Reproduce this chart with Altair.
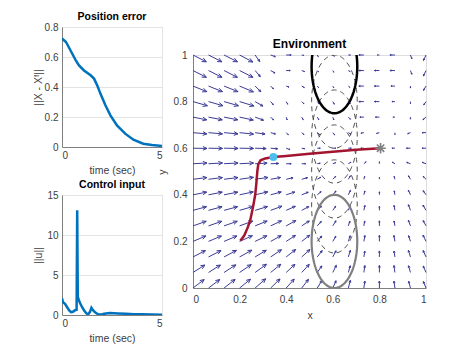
import altair as alt
import pandas as pd
import numpy as np

FONT = "Liberation Sans"

# ---------------- Position error ----------------
t_err = [0, 0.2, 0.44, 0.69, 0.85, 1.1, 1.43, 1.6, 1.76, 1.92, 2.17, 2.42, 2.75, 3.16, 3.57, 4.06, 4.5, 5.0]
err = [0.723, 0.70, 0.64, 0.578, 0.544, 0.51, 0.478, 0.456, 0.411, 0.356, 0.278, 0.211, 0.144, 0.089, 0.049, 0.022, 0.013, 0.007]

# ---------------- Control input ----------------
t_u = [0, 0.05, 0.15, 0.25, 0.35, 0.45, 0.55, 0.65, 0.73, 0.76, 0.79, 0.82, 0.9, 1.0, 1.1, 1.2, 1.3, 1.4,
       1.47, 1.55, 1.65, 1.8, 1.95, 2.1, 2.4, 2.8, 3.2, 3.6, 4.0, 4.5, 5.0]
u = [2.1, 1.6, 1.4, 1.0, 0.6, 0.35, 0.4, 0.6, 0.65, 13.1, 2.3, 2.0, 1.5, 1.0, 0.6, 0.25, 0.05, 0.4,
     0.9, 0.6, 0.35, 0.1, 0.05, 0.15, 0.25, 0.2, 0.15, 0.1, 0.08, 0.05, 0.03]

# ---------------- Environment ----------------
grid_vals = [i / 15 for i in range(16)]
# arrow angles (deg) and lengths (px), rows from y=1 (top) to y=0, columns x=0..1
ANG = [
    [-27, -27, -27, -28, -55, -20, 0, -10, -60, -40, 0, 180, 180, 180, -70, -115],
    [-27, -27, -27, -27, -50, -30, 0, -20, -45, -60, -30, 180, 180, 180, -70, -115],
    [-22, -22, -22, -23, -45, -45, -20, -30, -50, -60, -40, 180, 180, 180, -90, -120],
    [-16, -16, -16, -17, -30, -50, -60, -45, -50, -60, -50, 180, 180, 180, -90, -125],
    [-11, -11, -11, -12, -20, -45, -70, -60, -60, -70, -45, 180, 180, 180, -90, -140],
    [-5, -5, -5, -6, -8, -15, -45, -40, -40, -50, -30, 190, 195, -90, -160, 180],
    [-1, -1, -1, -1, -2, -5, -20, -10, 0, 0, 0, 180, 0, 180, 180, 180],
    [3, 3, 3, 3, 3, 2, 0, 0, 10, 20, 30, 40, 90, 150, 160, 160],
    [7, 7, 7, 8, 8, 10, 12, 15, 30, 45, 60, 75, 90, 105, 120, 135],
    [11, 11, 11, 12, 13, 15, 18, 22, 40, 50, 65, 75, 90, 100, 115, 125],
    [15, 15, 15, 16, 17, 20, 24, 28, 45, 55, 70, 78, 90, 100, 110, 120],
    [19, 19, 19, 20, 22, 25, 29, 33, 48, 58, 72, 80, 90, 100, 110, 118],
    [23, 23, 23, 24, 26, 29, 33, 38, 50, 60, 72, 80, 90, 100, 108, 115],
    [27, 27, 28, 29, 31, 34, 38, 42, 52, 62, 73, 81, 90, 99, 107, 114],
    [32, 32, 33, 34, 36, 39, 43, 47, 55, 64, 74, 82, 90, 98, 106, 113],
    [37, 37, 38, 39, 41, 44, 48, 52, 58, 66, 75, 82, 90, 98, 105, 112],
]
LEN = [
    [15, 15, 15, 15, 8, 5, 5, 2, 2, 2, 2, 5, 2, 5, 4, 6],
    [15, 15, 15, 15, 8, 5, 4, 3, 2, 2, 2, 5, 5, 5, 4, 6],
    [15, 15, 15, 15, 8, 4, 3, 3, 2, 2, 2, 5, 5, 4, 2, 5],
    [15, 15, 15, 15, 9, 4, 3, 3, 3, 3, 3, 5, 5, 3, 2, 4],
    [14, 14, 14, 14, 9, 4, 3, 3, 3, 3, 3, 4, 4, 2, 2, 4],
    [14, 14, 14, 14, 10, 5, 3, 3, 3, 3, 3, 3, 3, 2, 3, 4],
    [14, 14, 14, 14, 11, 7, 4, 3, 3, 3, 3, 3, 1, 3, 4, 4],
    [14, 14, 14, 14, 12, 8, 5, 4, 3, 3, 3, 3, 2, 3, 4, 4],
    [14, 14, 14, 14, 13, 10, 7, 6, 4, 4, 4, 3, 2, 3, 4, 4],
    [14, 14, 14, 14, 13, 11, 9, 7, 5, 5, 5, 4, 3, 4, 5, 5],
    [14, 14, 14, 14, 13, 12, 10, 8, 6, 5, 5, 5, 4, 5, 6, 6],
    [14, 14, 14, 14, 13, 12, 11, 9, 6, 6, 5, 5, 5, 5, 6, 6],
    [14, 14, 14, 14, 13, 12, 11, 10, 7, 6, 6, 6, 6, 6, 6, 7],
    [14, 14, 14, 14, 13, 13, 12, 11, 8, 7, 7, 6, 6, 6, 7, 7],
    [14, 14, 14, 14, 14, 13, 12, 11, 8, 8, 7, 7, 7, 7, 7, 7],
    [14, 14, 14, 14, 14, 13, 12, 11, 9, 8, 8, 7, 7, 7, 7, 7],
]
PX_PER_UNIT = 233.0

traj_x = [0.203, 0.22, 0.235, 0.246, 0.258, 0.267, 0.272, 0.276, 0.28, 0.29, 0.31, 0.345, 0.4, 0.5, 0.6, 0.7, 0.805]
traj_y = [0.203, 0.225, 0.26, 0.292, 0.35, 0.40, 0.45, 0.5, 0.53, 0.548, 0.556, 0.562, 0.567, 0.576, 0.585, 0.593, 0.6]
dot_xy = (0.345, 0.562)
goal_xy = (0.805, 0.6)

# obstacle ellipses: center x, center y, radius x, radius y
obst_black = (0.607, 0.95, 0.098, 0.2)
obst_gray = (0.607, 0.2, 0.098, 0.2)
obst_dashed_cy = [0.35, 0.5, 0.65, 0.8]

# ---------------- build tables ----------------
err_df = pd.DataFrame({"t": t_err, "v": err})
u_df = pd.DataFrame({"t": t_u, "v": u})

arrows = []
for r in range(16):
    y0 = grid_vals[15 - r]
    for c in range(16):
        x0 = grid_vals[c]
        a = np.deg2rad(ANG[r][c])
        L = LEN[r][c] / PX_PER_UNIT
        x1 = x0 + L * np.cos(a)
        y1 = y0 + L * np.sin(a)
        arrows.append({"x": x0, "y": y0, "x2": x1, "y2": y1})
        h = 0.32 * L
        for s in (1, -1):
            ha = a + np.pi + s * 0.42
            arrows.append({"x": x1, "y": y1, "x2": x1 + h * np.cos(ha), "y2": y1 + h * np.sin(ha)})
arrow_df = pd.DataFrame(arrows)


def ellipse(params, key):
    cx, cy, rx, ry = params
    th = np.linspace(0, 2 * np.pi, 121)
    return pd.DataFrame({"x": cx + rx * np.cos(th), "y": cy + ry * np.sin(th), "i": range(len(th)), "k": key})


black_df = ellipse(obst_black, "b")
gray_df = ellipse(obst_gray, "g")
dashed_df = pd.concat([ellipse((obst_gray[0], cy, obst_gray[2], obst_gray[3]), f"d{j}")
                       for j, cy in enumerate(obst_dashed_cy)])
traj_df = pd.DataFrame({"x": traj_x, "y": traj_y, "i": range(len(traj_x))})
dot_df = pd.DataFrame({"x": [dot_xy[0]], "y": [dot_xy[1]]})
goal_df = pd.DataFrame({"x": [goal_xy[0]], "y": [goal_xy[1]]})

AX = dict(labelFont=FONT, titleFont=FONT, labelFontSize=10, titleFontSize=10.5,
          labelColor="#404040", titleColor="#404040", domainColor="#7f7f7f",
          ticks=False, titleFontWeight="normal")


# ---------------- left panels ----------------
def left_panel(df, ydom, yvals, ytitle, title, ytp):
    return alt.Chart(df).mark_line(color="#0072BD", strokeWidth=2.5, clip=True).encode(
        x=alt.X("t:Q", scale=alt.Scale(domain=[0, 5], nice=False),
                axis=alt.Axis(values=[0, 5], title="time (sec)", grid=True, gridColor="#e3e3e3",
                              format="~g", labelPadding=3, titlePadding=5, **AX)),
        y=alt.Y("v:Q", scale=alt.Scale(domain=ydom, nice=False),
                axis=alt.Axis(values=yvals, title=ytitle, grid=True, gridColor="#e3e3e3",
                              format="~g", labelPadding=4, titlePadding=ytp, **AX)),
    ).properties(width=100, height=120,
                 title=alt.TitleParams(title, font=FONT, fontSize=10.5, fontWeight="bold", color="black", offset=0))


top = left_panel(err_df, [0, 0.8], [0, 0.2, 0.4, 0.6, 0.8], "||X - Xᶠ||", "Position error", 1)
bot = left_panel(u_df, [0, 15], [0, 5, 10, 15], "||u||", "Control input", 3)

# ---------------- environment ----------------
xs = alt.Scale(domain=[0, 1], nice=False)
ys = alt.Scale(domain=[0, 1], nice=False)
xax = alt.Axis(values=[0, 0.2, 0.4, 0.6, 0.8, 1], format="~g", title="x", grid=False,
               labelPadding=6, titlePadding=6, **AX)
yax = alt.Axis(values=[0, 0.2, 0.4, 0.6, 0.8, 1], format="~g", title="y", grid=False,
               labelPadding=6, titlePadding=6, **AX)

arrow_layer = alt.Chart(arrow_df).mark_rule(color="#3b3b98", strokeWidth=1).encode(
    x=alt.X("x:Q", scale=xs, axis=xax), y=alt.Y("y:Q", scale=ys, axis=yax), x2="x2:Q", y2="y2:Q")
dashed_layer = alt.Chart(dashed_df).mark_line(color="#3a3a3a", strokeWidth=0.9, strokeDash=[5, 4], clip=True).encode(
    x=alt.X("x:Q", scale=xs), y=alt.Y("y:Q", scale=ys), order="i:Q", detail="k:N")
black_layer = alt.Chart(black_df).mark_line(color="black", strokeWidth=2.5, clip=True).encode(
    x=alt.X("x:Q", scale=xs), y=alt.Y("y:Q", scale=ys), order="i:Q")
gray_layer = alt.Chart(gray_df).mark_line(color="#808080", strokeWidth=2.2, clip=True).encode(
    x=alt.X("x:Q", scale=xs), y=alt.Y("y:Q", scale=ys), order="i:Q")
traj_layer = alt.Chart(traj_df).mark_line(color="#A2142F", strokeWidth=2.5).encode(
    x=alt.X("x:Q", scale=xs), y=alt.Y("y:Q", scale=ys), order="i:Q")
dot_layer = alt.Chart(dot_df).mark_point(filled=True, color="#4DBEEE", size=64, opacity=1, shape="circle").encode(
    x=alt.X("x:Q", scale=xs), y=alt.Y("y:Q", scale=ys))
star_path = "M-1,0L1,0M0,-1L0,1M-0.7,-0.7L0.7,0.7M-0.7,0.7L0.7,-0.7"
goal_layer = alt.Chart(goal_df).mark_point(shape=star_path, filled=False, color="#808080", size=110,
                                           strokeWidth=1.6, opacity=1).encode(
    x=alt.X("x:Q", scale=xs), y=alt.Y("y:Q", scale=ys))

env = alt.layer(arrow_layer, dashed_layer, black_layer, gray_layer, traj_layer, dot_layer, goal_layer).properties(
    width=233, height=233,
    title=alt.TitleParams("Environment", font=FONT, fontSize=12, fontWeight="bold", color="black", offset=-1))

spacer = alt.Chart(pd.DataFrame({"a": [0]})).mark_text(text="", opacity=0).encode(
    x=alt.value(0), y=alt.value(5)).properties(
    width=1, height=10, view=alt.ViewBackground(strokeOpacity=0, fillOpacity=0, strokeWidth=0))

left = alt.vconcat(top, bot, spacing=3)
right = alt.vconcat(spacer, env, spacing=0)
chart = alt.hconcat(left, right, spacing=-7).properties(
    padding={"left": 24, "top": 3, "right": 5, "bottom": 2}
).configure_view(stroke="transparent", strokeWidth=0).configure(background="white")

chart.save("out.html", embed_options={"renderer": "svg", "actions": False})
